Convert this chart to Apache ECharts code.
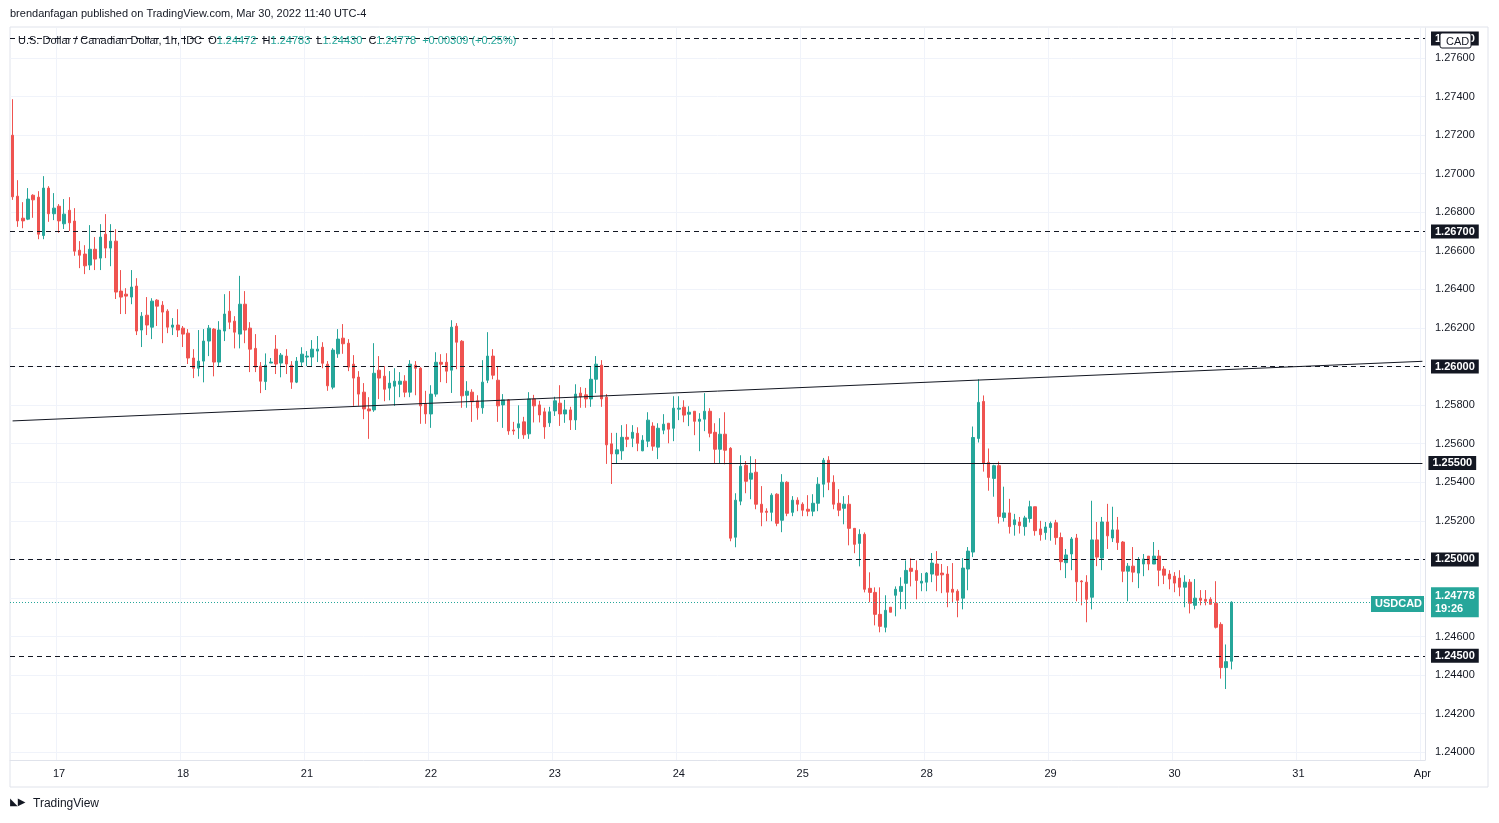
<!DOCTYPE html>
<html><head><meta charset="utf-8">
<script src="https://cdn.jsdelivr.net/npm/echarts@6/dist/echarts.min.js"></script>
<style>html,body{margin:0;padding:0;background:#fff}#c{width:1499px;height:823px}</style>
</head><body><div id="c"></div>
<script>
// [open, close, low, high]
const candles = [
[1.27199,1.26880,1.26864,1.27386],[1.26883,1.26755,1.26724,1.26966],[1.26769,1.26755,1.26717,1.26852],[1.26764,1.26868,1.26759,1.26925],
[1.26888,1.26864,1.26771,1.26893],[1.26878,1.26686,1.26660,1.26909],[1.26679,1.26925,1.26660,1.26987],[1.26925,1.26792,1.26750,1.26935],
[1.26792,1.26821,1.26759,1.26899],[1.26831,1.26755,1.26693,1.26842],[1.26740,1.26790,1.26713,1.26868],[1.26810,1.26745,1.26702,1.26878],
[1.26754,1.26598,1.26574,1.26821],[1.26603,1.26577,1.26510,1.26650],[1.26583,1.26522,1.26479,1.26629],[1.26526,1.26608,1.26500,1.26733],
[1.26608,1.26557,1.26500,1.26671],[1.26562,1.26671,1.26500,1.26738],[1.26686,1.26614,1.26562,1.26790],[1.26614,1.26650,1.26520,1.26738],
[1.26650,1.26386,1.26350,1.26712],[1.26391,1.26360,1.26272,1.26500],[1.26375,1.26365,1.26272,1.26406],[1.26360,1.26412,1.26323,1.26500],
[1.26417,1.26184,1.26163,1.26458],[1.26189,1.26261,1.26101,1.26282],[1.26266,1.26215,1.26163,1.26360],[1.26204,1.26339,1.26142,1.26354],
[1.26344,1.26313,1.26210,1.26349],[1.26318,1.26282,1.26121,1.26339],[1.26287,1.26204,1.26173,1.26297],[1.26204,1.26215,1.26163,1.26251],
[1.26215,1.26189,1.26153,1.26297],[1.26199,1.26168,1.26101,1.26210],[1.26173,1.26044,1.26013,1.26194],[1.26044,1.25991,1.25940,1.26090],
[1.25991,1.26028,1.25949,1.26189],[1.26028,1.26132,1.25918,1.26194],[1.26132,1.26199,1.26054,1.26215],[1.26194,1.26023,1.25949,1.26199],
[1.26023,1.26189,1.26002,1.26235],[1.26184,1.26272,1.26132,1.26375],[1.26287,1.26230,1.26194,1.26391],[1.26235,1.26178,1.26094,1.26261],
[1.26168,1.26323,1.26094,1.26470],[1.26323,1.26189,1.26121,1.26391],[1.26199,1.26090,1.25971,1.26230],[1.26094,1.25997,1.25971,1.26168],
[1.26002,1.25924,1.25862,1.26023],[1.25922,1.26007,1.25878,1.26068],[1.26018,1.26023,1.26018,1.26044],[1.26090,1.26013,1.25961,1.26163],
[1.26018,1.26059,1.25944,1.26070],[1.26054,1.26013,1.25961,1.26090],[1.26007,1.25919,1.25884,1.26028],[1.25919,1.26028,1.25914,1.26049],
[1.26023,1.26064,1.26002,1.26100],[1.26049,1.26054,1.26002,1.26080],[1.26049,1.26090,1.26002,1.26137],[1.26080,1.26090,1.26023,1.26158],
[1.26100,1.26017,1.25991,1.26126],[1.26012,1.25900,1.25874,1.26028],[1.25893,1.26085,1.25882,1.26095],[1.26066,1.26142,1.26045,1.26194],
[1.26147,1.26118,1.26066,1.26220],[1.26121,1.25997,1.25976,1.26142],[1.26012,1.25940,1.25796,1.26059],[1.25945,1.25857,1.25796,1.25976],
[1.25867,1.25780,1.25727,1.25914],[1.25780,1.25770,1.25625,1.25841],[1.25775,1.25965,1.25765,1.26121],[1.25981,1.25940,1.25831,1.26054],
[1.25950,1.25882,1.25820,1.26002],[1.25888,1.25914,1.25825,1.25976],[1.25898,1.25924,1.25796,1.25991],[1.25908,1.25924,1.25841,1.25971],
[1.25924,1.25867,1.25841,1.25955],[1.25867,1.26012,1.25841,1.26033],[1.26007,1.25991,1.25851,1.26028],[1.25991,1.25796,1.25703,1.25997],
[1.25806,1.25754,1.25703,1.25874],[1.25754,1.25857,1.25682,1.25903],[1.25857,1.26022,1.25843,1.26074],[1.26022,1.26012,1.25919,1.26064],
[1.26022,1.25976,1.25914,1.26069],[1.25981,1.26204,1.25863,1.26240],[1.26209,1.26126,1.25986,1.26225],[1.26131,1.25848,1.25786,1.26137],
[1.25851,1.25872,1.25786,1.25924],[1.25867,1.25817,1.25713,1.25882],[1.25822,1.25786,1.25724,1.25851],[1.25786,1.25919,1.25755,1.26033],
[1.25929,1.26054,1.25914,1.26178],[1.26054,1.25955,1.25934,1.26090],[1.25929,1.25796,1.25713,1.26002],[1.25801,1.25827,1.25682,1.25857],
[1.25827,1.25666,1.25646,1.25831],[1.25671,1.25666,1.25646,1.25713],[1.25682,1.25703,1.25625,1.25799],[1.25713,1.25646,1.25625,1.25739],
[1.25651,1.25832,1.25625,1.25867],[1.25832,1.25796,1.25710,1.25853],[1.25801,1.25749,1.25710,1.25822],[1.25765,1.25687,1.25625,1.25786],
[1.25708,1.25765,1.25687,1.25791],[1.25770,1.25822,1.25744,1.25843],[1.25810,1.25754,1.25692,1.25903],[1.25754,1.25775,1.25708,1.25827],
[1.25775,1.25723,1.25671,1.25791],[1.25723,1.25857,1.25671,1.25908],[1.25862,1.25843,1.25786,1.25893],[1.25853,1.25832,1.25786,1.25889],
[1.25832,1.25934,1.25791,1.26002],[1.25934,1.26012,1.25862,1.26054],[1.26007,1.25832,1.25791,1.26033],[1.25841,1.25594,1.25495,1.25857],
[1.25599,1.25547,1.25391,1.25656],[1.25547,1.25568,1.25497,1.25656],[1.25563,1.25633,1.25516,1.25696],[1.25633,1.25623,1.25582,1.25701],
[1.25628,1.25659,1.25582,1.25696],[1.25654,1.25602,1.25561,1.25685],[1.25563,1.25618,1.25561,1.25644],[1.25613,1.25722,1.25582,1.25763],
[1.25691,1.25587,1.25563,1.25711],[1.25582,1.25680,1.25520,1.25706],[1.25670,1.25701,1.25649,1.25753],[1.25706,1.25675,1.25602,1.25706],
[1.25680,1.25784,1.25613,1.25846],[1.25779,1.25784,1.25722,1.25846],[1.25789,1.25748,1.25711,1.25825],[1.25753,1.25763,1.25691,1.25794],
[1.25768,1.25716,1.25644,1.25768],[1.25716,1.25727,1.25561,1.25758],[1.25727,1.25768,1.25665,1.25862],[1.25768,1.25654,1.25633,1.25784],
[1.25659,1.25571,1.25499,1.25706],[1.25571,1.25649,1.25495,1.25732],[1.25649,1.25566,1.25493,1.25763],[1.25576,1.25110,1.25094,1.25582],
[1.25115,1.25307,1.25063,1.25343],[1.25302,1.25483,1.25281,1.25540],[1.25488,1.25405,1.25343,1.25510],[1.25416,1.25447,1.25312,1.25535],
[1.25452,1.25286,1.25260,1.25520],[1.25286,1.25244,1.25172,1.25380],[1.25250,1.25244,1.25198,1.25265],[1.25244,1.25333,1.25198,1.25343],
[1.25338,1.25187,1.25172,1.25343],[1.25203,1.25400,1.25141,1.25442],[1.25400,1.25239,1.25224,1.25405],[1.25244,1.25307,1.25224,1.25328],
[1.25307,1.25286,1.25250,1.25322],[1.25286,1.25255,1.25224,1.25296],[1.25260,1.25250,1.25224,1.25333],[1.25250,1.25291,1.25224,1.25338],
[1.25291,1.25390,1.25250,1.25426],[1.25390,1.25514,1.25322,1.25526],[1.25514,1.25400,1.25359,1.25535],[1.25400,1.25286,1.25260,1.25436],
[1.25291,1.25255,1.25224,1.25364],[1.25265,1.25286,1.25182,1.25328],[1.25286,1.25161,1.25073,1.25333],[1.25161,1.25078,1.25032,1.25161],
[1.25083,1.25130,1.24964,1.25156],[1.25130,1.24845,1.24829,1.25140],[1.24850,1.24829,1.24778,1.24933],[1.24829,1.24715,1.24658,1.24855],
[1.24715,1.24653,1.24622,1.24855],[1.24648,1.24736,1.24622,1.24814],[1.24752,1.24726,1.24726,1.24752],[1.24814,1.24845,1.24705,1.24860],
[1.24834,1.24860,1.24742,1.24907],[1.24876,1.24943,1.24742,1.24995],[1.24954,1.24938,1.24860,1.25005],[1.24943,1.24891,1.24793,1.24995],
[1.24877,1.24887,1.24835,1.24929],[1.24882,1.24929,1.24835,1.24934],[1.24924,1.24981,1.24882,1.25033],[1.24976,1.24918,1.24835,1.25043],
[1.24929,1.24920,1.24825,1.24976],[1.24924,1.24830,1.24752,1.24965],[1.24845,1.24830,1.24778,1.24981],[1.24835,1.24788,1.24700,1.24845],
[1.24799,1.24955,1.24741,1.25007],[1.24950,1.25043,1.24840,1.25064],[1.25038,1.25632,1.25012,1.25689],[1.25627,1.25814,1.25606,1.25934],
[1.25819,1.25498,1.25455,1.25850],[1.25503,1.25425,1.25356,1.25575],[1.25420,1.25486,1.25325,1.25491],[1.25486,1.25222,1.25186,1.25507],
[1.25217,1.25241,1.25196,1.25377],[1.25241,1.25170,1.25134,1.25314],[1.25180,1.25205,1.25123,1.25236],[1.25194,1.25175,1.25134,1.25220],
[1.25170,1.25215,1.25123,1.25226],[1.25212,1.25273,1.25191,1.25304],[1.25273,1.25149,1.25123,1.25273],[1.25158,1.25128,1.25097,1.25200],
[1.25139,1.25168,1.25102,1.25194],[1.25165,1.25186,1.25097,1.25196],[1.25190,1.25113,1.25076,1.25205],[1.25113,1.24988,1.24944,1.25139],
[1.24983,1.25023,1.24903,1.25054],[1.25028,1.25106,1.24944,1.25116],[1.25111,1.24884,1.24783,1.25132],[1.24888,1.24884,1.24762,1.24892],
[1.24882,1.24793,1.24674,1.24918],[1.24804,1.25101,1.24741,1.25304],[1.25101,1.25012,1.24965,1.25194],[1.25007,1.25194,1.24944,1.25220],
[1.25194,1.25122,1.25054,1.25288],[1.25111,1.25153,1.25090,1.25273],[1.25153,1.25087,1.25049,1.25220],[1.25090,1.24939,1.24882,1.25095],
[1.24939,1.24965,1.24783,1.24981],[1.24965,1.24934,1.24882,1.25064],[1.24929,1.24997,1.24851,1.25012],[1.24976,1.25002,1.24913,1.25028],
[1.25017,1.24976,1.24944,1.25017],[1.24976,1.25017,1.24976,1.25090],[1.25017,1.24944,1.24861,1.25049],[1.24950,1.24918,1.24872,1.24965],
[1.24924,1.24898,1.24845,1.24944],[1.24913,1.24877,1.24830,1.24934],[1.24903,1.24856,1.24809,1.24944],[1.24856,1.24882,1.24752,1.24918],
[1.24882,1.24773,1.24720,1.24898],[1.24762,1.24799,1.24741,1.24898],[1.24799,1.24788,1.24762,1.24841],[1.24793,1.24783,1.24762,1.24841],
[1.24793,1.24767,1.24767,1.24804],[1.24773,1.24648,1.24642,1.24887],[1.24663,1.24439,1.24382,1.24674],[1.24439,1.24470,1.24328,1.24559],
[1.24472,1.24778,1.24430,1.24783]
];
const totalSlots = 274;
const dayTickIndex = [9,33,57,81,105,129,153,177,201,225,249,273];
const dayTickLabel = ['17','18','21','22','23','24','25','28','29','30','31','Apr'];
const priceTicks = [1.240,1.242,1.244,1.246,1.248,1.250,1.252,1.254,1.256,1.258,1.260,1.262,1.264,1.266,1.268,1.270,1.272,1.274,1.276];
const dashedLevels = [1.2770,1.2670,1.2600,1.2500,1.2450];
const solidLevel = 1.2550, solidStartIndex = 116;
const trendStart = 1.25718, trendEnd = 1.26027;
const lastPrice = 1.24778;

const cats = [], trend = [];
for (let i = 0; i < totalSlots; i++) {
  const k = dayTickIndex.indexOf(i);
  cats.push(k >= 0 ? dayTickLabel[k] : 's' + i);
  trend.push(null);
}
trend[0] = trendStart; trend[totalSlots - 1] = trendEnd;
const data = candles.slice();
const isDay = (i) => dayTickIndex.indexOf(i) >= 0;
const GREEN = '#26a69a', RED = '#ef5350';
const lbl = (txt) => ({show:true, position:'end', distance:6, formatter:txt, color:'#fff', backgroundColor:'#131722',
  padding:[2,4,1,4], fontWeight:'bold', fontSize:11, fontFamily:'Arial, Liberation Sans'});

const markData = dashedLevels.map(v => ({yAxis:v, lineStyle:{type:[5,4], color:'#131722', width:1}, label:lbl(v.toFixed(5))}));
markData.push([{coord:[solidStartIndex, solidLevel], lineStyle:{type:'solid', color:'#131722', width:1}, label:lbl(solidLevel.toFixed(5))},
               {coord:[totalSlots-1, solidLevel]}]);
markData.push({yAxis:lastPrice, lineStyle:{type:[1,2], color:GREEN, width:1},
  label:{show:true, position:'end', distance:6, formatter:lastPrice.toFixed(5)+'\n19:26', color:'#fff', backgroundColor:GREEN,
  padding:[2,4,2,4], fontWeight:'bold', fontSize:11, lineHeight:13, fontFamily:'Arial, Liberation Sans'}});

const chart = echarts.init(document.getElementById('c'));
chart.setOption({
  animation:false,
  backgroundColor:'#fff',
  grid:{left:10, right:74, top:28, bottom:63},
  xAxis:{type:'category', data:cats, boundaryGap:true,
    axisLine:{show:true, lineStyle:{color:'#e0e3eb'}}, axisTick:{show:false},
    axisLabel:{interval:(i)=>isDay(i), formatter:(v)=>v, color:'#131722', fontSize:11, margin:8, fontFamily:'Arial, Liberation Sans'},
    splitLine:{show:true, interval:(i)=>isDay(i), lineStyle:{color:'#f0f3fa'}}},
  yAxis:{type:'value', position:'right', min:1.2396, max:1.27755, scale:true,
    axisLine:{show:true, lineStyle:{color:'#e0e3eb'}},
    axisTick:{show:false, customValues:priceTicks},
    axisLabel:{customValues:priceTicks, formatter:(v)=>v.toFixed(5), color:'#131722', fontSize:11, margin:10, fontFamily:'Arial, Liberation Sans'},
    splitLine:{show:true, lineStyle:{color:'#f0f3fa'}}},
  series:[
    {type:'candlestick', data:data, barWidth:3,
     itemStyle:{color:GREEN, color0:RED, borderColor:GREEN, borderColor0:RED, borderWidth:1},
     markLine:{symbol:'none', silent:true, precision:5, data:markData}},
    {type:'line', data:trend, connectNulls:true, symbol:'none', lineStyle:{color:'#131722', width:1}, z:3}
  ],
  graphic:[
    {type:'rect', shape:{x:10,y:27,width:1478,height:760}, style:{fill:'none', stroke:'#e0e3eb', lineWidth:1}, silent:true, z:-1},
    {type:'text', left:10, top:8, style:{text:'brendanfagan published on TradingView.com, Mar 30, 2022 11:40 UTC-4', fill:'#131722', font:'11px Arial, Liberation Sans'}},
    {type:'text', left:18, top:35, z:100, style:{
      text:'{t|U.S. Dollar / Canadian Dollar, 1h, IDC}  {t|O}{g|1.24472}  {t|H}{g|1.24783}  {t|L}{g|1.24430}  {t|C}{g|1.24778}  {g|+0.00309 (+0.25%)}',
      font:'11px Arial, Liberation Sans',
      rich:{t:{fill:'#131722', font:'11px Arial, Liberation Sans'}, g:{fill:GREEN, font:'11px Arial, Liberation Sans'}}}},
    {type:'rect', shape:{x:1440,y:33,width:31,height:15,r:2}, style:{fill:'#fff', stroke:'#131722', lineWidth:1}, z:100},
    {type:'text', left:1446, top:36, z:101, style:{text:'CAD', fill:'#131722', font:'11px Arial, Liberation Sans'}},
    {type:'rect', shape:{x:1371,y:596,width:53,height:16}, style:{fill:GREEN}, z:100},
    {type:'text', left:1375, top:598, z:101, style:{text:'USDCAD', fill:'#fff', font:'bold 11px Arial, Liberation Sans'}},
    {type:'text', left:10, top:797, style:{text:'◣▶', fill:'#131722', font:'bold 10px DejaVu Sans'}},
    {type:'text', left:33, top:798, style:{text:'TradingView', fill:'#131722', font:'12px Arial, Liberation Sans'}}
  ]
});
</script></body></html>
